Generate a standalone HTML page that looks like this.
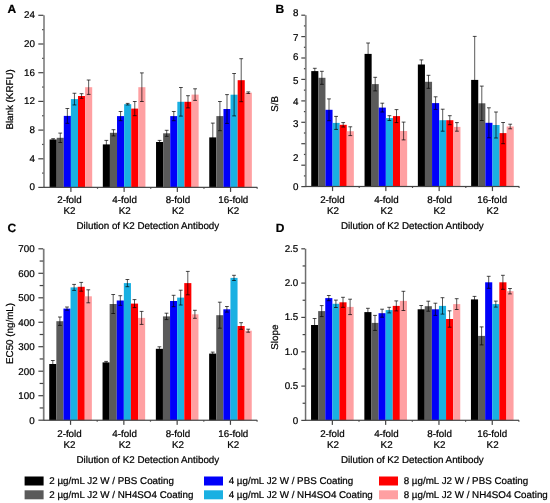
<!DOCTYPE html>
<html><head><meta charset="utf-8"><style>
html,body{margin:0;padding:0;background:#fff;}
svg{display:block;}
text{font-family:'Liberation Sans', Arial, sans-serif;fill:#000;stroke:#000;stroke-width:0.22px;text-rendering:geometricPrecision;}
</style></head><body>
<svg width="550" height="503" viewBox="0 0 550 503">
<rect width="550" height="503" fill="#fff"/>
<rect x="49.60" y="139.50" width="7.10" height="47.85" fill="#000000"/>
<rect x="56.70" y="137.80" width="7.10" height="49.55" fill="#5a5a5a"/>
<rect x="63.80" y="115.90" width="7.10" height="71.45" fill="#0000fa"/>
<rect x="70.90" y="99.10" width="7.10" height="88.25" fill="#1ab0e2"/>
<rect x="78.00" y="96.00" width="7.10" height="91.35" fill="#ff0000"/>
<rect x="85.10" y="87.20" width="7.10" height="100.15" fill="#ffa0a2"/>
<line x1="53.15" y1="138.70" x2="53.15" y2="140.30" stroke="#000" stroke-width="1" stroke-opacity="0.65"/>
<line x1="51.25" y1="138.70" x2="55.05" y2="138.70" stroke="#000" stroke-width="1" stroke-opacity="0.7"/>
<line x1="51.25" y1="140.30" x2="55.05" y2="140.30" stroke="#000" stroke-width="1" stroke-opacity="0.7"/>
<line x1="60.25" y1="133.10" x2="60.25" y2="142.50" stroke="#000" stroke-width="1" stroke-opacity="0.65"/>
<line x1="58.35" y1="133.10" x2="62.15" y2="133.10" stroke="#000" stroke-width="1" stroke-opacity="0.7"/>
<line x1="58.35" y1="142.50" x2="62.15" y2="142.50" stroke="#000" stroke-width="1" stroke-opacity="0.7"/>
<line x1="67.35" y1="108.50" x2="67.35" y2="123.30" stroke="#000" stroke-width="1" stroke-opacity="0.65"/>
<line x1="65.45" y1="108.50" x2="69.25" y2="108.50" stroke="#000" stroke-width="1" stroke-opacity="0.7"/>
<line x1="65.45" y1="123.30" x2="69.25" y2="123.30" stroke="#000" stroke-width="1" stroke-opacity="0.7"/>
<line x1="74.45" y1="93.25" x2="74.45" y2="104.95" stroke="#000" stroke-width="1" stroke-opacity="0.65"/>
<line x1="72.55" y1="93.25" x2="76.35" y2="93.25" stroke="#000" stroke-width="1" stroke-opacity="0.7"/>
<line x1="72.55" y1="104.95" x2="76.35" y2="104.95" stroke="#000" stroke-width="1" stroke-opacity="0.7"/>
<line x1="81.55" y1="93.70" x2="81.55" y2="98.30" stroke="#000" stroke-width="1" stroke-opacity="0.65"/>
<line x1="79.65" y1="93.70" x2="83.45" y2="93.70" stroke="#000" stroke-width="1" stroke-opacity="0.7"/>
<line x1="79.65" y1="98.30" x2="83.45" y2="98.30" stroke="#000" stroke-width="1" stroke-opacity="0.7"/>
<line x1="88.65" y1="80.00" x2="88.65" y2="94.40" stroke="#000" stroke-width="1" stroke-opacity="0.65"/>
<line x1="86.75" y1="80.00" x2="90.55" y2="80.00" stroke="#000" stroke-width="1" stroke-opacity="0.7"/>
<line x1="86.75" y1="94.40" x2="90.55" y2="94.40" stroke="#000" stroke-width="1" stroke-opacity="0.7"/>
<rect x="102.82" y="144.40" width="7.10" height="42.95" fill="#000000"/>
<rect x="109.92" y="132.80" width="7.10" height="54.55" fill="#5a5a5a"/>
<rect x="117.02" y="116.10" width="7.10" height="71.25" fill="#0000fa"/>
<rect x="124.12" y="104.20" width="7.10" height="83.15" fill="#1ab0e2"/>
<rect x="131.22" y="108.60" width="7.10" height="78.75" fill="#ff0000"/>
<rect x="138.32" y="87.20" width="7.10" height="100.15" fill="#ffa0a2"/>
<line x1="106.37" y1="140.40" x2="106.37" y2="148.40" stroke="#000" stroke-width="1" stroke-opacity="0.65"/>
<line x1="104.47" y1="140.40" x2="108.27" y2="140.40" stroke="#000" stroke-width="1" stroke-opacity="0.7"/>
<line x1="104.47" y1="148.40" x2="108.27" y2="148.40" stroke="#000" stroke-width="1" stroke-opacity="0.7"/>
<line x1="113.47" y1="129.70" x2="113.47" y2="135.90" stroke="#000" stroke-width="1" stroke-opacity="0.65"/>
<line x1="111.57" y1="129.70" x2="115.37" y2="129.70" stroke="#000" stroke-width="1" stroke-opacity="0.7"/>
<line x1="111.57" y1="135.90" x2="115.37" y2="135.90" stroke="#000" stroke-width="1" stroke-opacity="0.7"/>
<line x1="120.57" y1="111.50" x2="120.57" y2="120.70" stroke="#000" stroke-width="1" stroke-opacity="0.65"/>
<line x1="118.67" y1="111.50" x2="122.47" y2="111.50" stroke="#000" stroke-width="1" stroke-opacity="0.7"/>
<line x1="118.67" y1="120.70" x2="122.47" y2="120.70" stroke="#000" stroke-width="1" stroke-opacity="0.7"/>
<line x1="127.67" y1="103.40" x2="127.67" y2="105.00" stroke="#000" stroke-width="1" stroke-opacity="0.65"/>
<line x1="125.77" y1="103.40" x2="129.57" y2="103.40" stroke="#000" stroke-width="1" stroke-opacity="0.7"/>
<line x1="125.77" y1="105.00" x2="129.57" y2="105.00" stroke="#000" stroke-width="1" stroke-opacity="0.7"/>
<line x1="134.77" y1="101.50" x2="134.77" y2="115.70" stroke="#000" stroke-width="1" stroke-opacity="0.65"/>
<line x1="132.87" y1="101.50" x2="136.67" y2="101.50" stroke="#000" stroke-width="1" stroke-opacity="0.7"/>
<line x1="132.87" y1="115.70" x2="136.67" y2="115.70" stroke="#000" stroke-width="1" stroke-opacity="0.7"/>
<line x1="141.87" y1="72.90" x2="141.87" y2="101.50" stroke="#000" stroke-width="1" stroke-opacity="0.65"/>
<line x1="139.97" y1="72.90" x2="143.77" y2="72.90" stroke="#000" stroke-width="1" stroke-opacity="0.7"/>
<line x1="139.97" y1="101.50" x2="143.77" y2="101.50" stroke="#000" stroke-width="1" stroke-opacity="0.7"/>
<rect x="156.04" y="142.00" width="7.10" height="45.35" fill="#000000"/>
<rect x="163.14" y="133.30" width="7.10" height="54.05" fill="#5a5a5a"/>
<rect x="170.24" y="116.10" width="7.10" height="71.25" fill="#0000fa"/>
<rect x="177.34" y="101.80" width="7.10" height="85.55" fill="#1ab0e2"/>
<rect x="184.44" y="101.80" width="7.10" height="85.55" fill="#ff0000"/>
<rect x="191.54" y="94.60" width="7.10" height="92.75" fill="#ffa0a2"/>
<line x1="159.59" y1="140.40" x2="159.59" y2="143.60" stroke="#000" stroke-width="1" stroke-opacity="0.65"/>
<line x1="157.69" y1="140.40" x2="161.49" y2="140.40" stroke="#000" stroke-width="1" stroke-opacity="0.7"/>
<line x1="157.69" y1="143.60" x2="161.49" y2="143.60" stroke="#000" stroke-width="1" stroke-opacity="0.7"/>
<line x1="166.69" y1="130.30" x2="166.69" y2="136.30" stroke="#000" stroke-width="1" stroke-opacity="0.65"/>
<line x1="164.79" y1="130.30" x2="168.59" y2="130.30" stroke="#000" stroke-width="1" stroke-opacity="0.7"/>
<line x1="164.79" y1="136.30" x2="168.59" y2="136.30" stroke="#000" stroke-width="1" stroke-opacity="0.7"/>
<line x1="173.79" y1="111.50" x2="173.79" y2="120.70" stroke="#000" stroke-width="1" stroke-opacity="0.65"/>
<line x1="171.89" y1="111.50" x2="175.69" y2="111.50" stroke="#000" stroke-width="1" stroke-opacity="0.7"/>
<line x1="171.89" y1="120.70" x2="175.69" y2="120.70" stroke="#000" stroke-width="1" stroke-opacity="0.7"/>
<line x1="180.89" y1="87.50" x2="180.89" y2="116.10" stroke="#000" stroke-width="1" stroke-opacity="0.65"/>
<line x1="178.99" y1="87.50" x2="182.79" y2="87.50" stroke="#000" stroke-width="1" stroke-opacity="0.7"/>
<line x1="178.99" y1="116.10" x2="182.79" y2="116.10" stroke="#000" stroke-width="1" stroke-opacity="0.7"/>
<line x1="187.99" y1="95.70" x2="187.99" y2="107.90" stroke="#000" stroke-width="1" stroke-opacity="0.65"/>
<line x1="186.09" y1="95.70" x2="189.89" y2="95.70" stroke="#000" stroke-width="1" stroke-opacity="0.7"/>
<line x1="186.09" y1="107.90" x2="189.89" y2="107.90" stroke="#000" stroke-width="1" stroke-opacity="0.7"/>
<line x1="195.09" y1="88.80" x2="195.09" y2="100.40" stroke="#000" stroke-width="1" stroke-opacity="0.65"/>
<line x1="193.19" y1="88.80" x2="196.99" y2="88.80" stroke="#000" stroke-width="1" stroke-opacity="0.7"/>
<line x1="193.19" y1="100.40" x2="196.99" y2="100.40" stroke="#000" stroke-width="1" stroke-opacity="0.7"/>
<rect x="209.26" y="137.40" width="7.10" height="49.95" fill="#000000"/>
<rect x="216.36" y="116.10" width="7.10" height="71.25" fill="#5a5a5a"/>
<rect x="223.46" y="109.00" width="7.10" height="78.35" fill="#0000fa"/>
<rect x="230.56" y="94.70" width="7.10" height="92.65" fill="#1ab0e2"/>
<rect x="237.66" y="80.20" width="7.10" height="107.15" fill="#ff0000"/>
<rect x="244.76" y="92.70" width="7.10" height="94.65" fill="#ffa0a2"/>
<line x1="212.81" y1="123.10" x2="212.81" y2="151.70" stroke="#000" stroke-width="1" stroke-opacity="0.65"/>
<line x1="210.91" y1="123.10" x2="214.71" y2="123.10" stroke="#000" stroke-width="1" stroke-opacity="0.7"/>
<line x1="210.91" y1="151.70" x2="214.71" y2="151.70" stroke="#000" stroke-width="1" stroke-opacity="0.7"/>
<line x1="219.91" y1="101.50" x2="219.91" y2="130.70" stroke="#000" stroke-width="1" stroke-opacity="0.65"/>
<line x1="218.01" y1="101.50" x2="221.81" y2="101.50" stroke="#000" stroke-width="1" stroke-opacity="0.7"/>
<line x1="218.01" y1="130.70" x2="221.81" y2="130.70" stroke="#000" stroke-width="1" stroke-opacity="0.7"/>
<line x1="227.01" y1="94.60" x2="227.01" y2="123.40" stroke="#000" stroke-width="1" stroke-opacity="0.65"/>
<line x1="225.11" y1="94.60" x2="228.91" y2="94.60" stroke="#000" stroke-width="1" stroke-opacity="0.7"/>
<line x1="225.11" y1="123.40" x2="228.91" y2="123.40" stroke="#000" stroke-width="1" stroke-opacity="0.7"/>
<line x1="234.11" y1="73.50" x2="234.11" y2="115.90" stroke="#000" stroke-width="1" stroke-opacity="0.65"/>
<line x1="232.21" y1="73.50" x2="236.01" y2="73.50" stroke="#000" stroke-width="1" stroke-opacity="0.7"/>
<line x1="232.21" y1="115.90" x2="236.01" y2="115.90" stroke="#000" stroke-width="1" stroke-opacity="0.7"/>
<line x1="241.21" y1="58.70" x2="241.21" y2="101.70" stroke="#000" stroke-width="1" stroke-opacity="0.65"/>
<line x1="239.31" y1="58.70" x2="243.11" y2="58.70" stroke="#000" stroke-width="1" stroke-opacity="0.7"/>
<line x1="239.31" y1="101.70" x2="243.11" y2="101.70" stroke="#000" stroke-width="1" stroke-opacity="0.7"/>
<line x1="248.31" y1="91.90" x2="248.31" y2="93.50" stroke="#000" stroke-width="1" stroke-opacity="0.65"/>
<line x1="246.41" y1="91.90" x2="250.21" y2="91.90" stroke="#000" stroke-width="1" stroke-opacity="0.7"/>
<line x1="246.41" y1="93.50" x2="250.21" y2="93.50" stroke="#000" stroke-width="1" stroke-opacity="0.7"/>
<rect x="43.10" y="15.30" width="1.80" height="172.65" fill="#8c8c8c"/>
<rect x="43.20" y="186.75" width="214.10" height="1.20" fill="#454545"/>
<rect x="38.30" y="14.70" width="5.10" height="1.20" fill="#454545"/>
<rect x="38.30" y="43.40" width="5.10" height="1.20" fill="#454545"/>
<rect x="38.30" y="72.10" width="5.10" height="1.20" fill="#454545"/>
<rect x="38.30" y="100.80" width="5.10" height="1.20" fill="#454545"/>
<rect x="38.30" y="129.50" width="5.10" height="1.20" fill="#454545"/>
<rect x="38.30" y="158.20" width="5.10" height="1.20" fill="#454545"/>
<rect x="38.30" y="186.80" width="5.10" height="1.20" fill="#454545"/>
<text x="35.00" y="18.30" font-size="9.8" text-anchor="end" font-weight="normal" >24</text>
<text x="35.00" y="47.00" font-size="9.8" text-anchor="end" font-weight="normal" >20</text>
<text x="35.00" y="75.70" font-size="9.8" text-anchor="end" font-weight="normal" >16</text>
<text x="35.00" y="104.40" font-size="9.8" text-anchor="end" font-weight="normal" >12</text>
<text x="35.00" y="133.10" font-size="9.8" text-anchor="end" font-weight="normal" >8</text>
<text x="35.00" y="161.80" font-size="9.8" text-anchor="end" font-weight="normal" >4</text>
<text x="35.00" y="190.40" font-size="9.8" text-anchor="end" font-weight="normal" >0</text>
<rect x="42.10" y="29.05" width="1.40" height="1.20" fill="#454545"/>
<rect x="42.10" y="57.75" width="1.40" height="1.20" fill="#454545"/>
<rect x="42.10" y="86.45" width="1.40" height="1.20" fill="#454545"/>
<rect x="42.10" y="115.15" width="1.40" height="1.20" fill="#454545"/>
<rect x="42.10" y="143.85" width="1.40" height="1.20" fill="#454545"/>
<rect x="42.10" y="172.50" width="1.40" height="1.20" fill="#454545"/>
<rect x="70.30" y="187.35" width="1.20" height="4.60" fill="#454545"/>
<rect x="96.91" y="187.35" width="1.20" height="1.40" fill="#454545"/>
<rect x="123.52" y="187.35" width="1.20" height="4.60" fill="#454545"/>
<rect x="150.13" y="187.35" width="1.20" height="1.40" fill="#454545"/>
<rect x="176.74" y="187.35" width="1.20" height="4.60" fill="#454545"/>
<rect x="203.35" y="187.35" width="1.20" height="1.40" fill="#454545"/>
<rect x="229.96" y="187.35" width="1.20" height="4.60" fill="#454545"/>
<rect x="256.57" y="187.35" width="1.20" height="1.40" fill="#454545"/>
<text x="69.45" y="202.65" font-size="9.8" text-anchor="middle" font-weight="normal" >2-fold</text>
<text x="69.55" y="213.60" font-size="9.8" text-anchor="middle" font-weight="normal" >K2</text>
<text x="124.60" y="202.65" font-size="9.8" text-anchor="middle" font-weight="normal" >4-fold</text>
<text x="124.70" y="213.60" font-size="9.8" text-anchor="middle" font-weight="normal" >K2</text>
<text x="177.90" y="202.65" font-size="9.8" text-anchor="middle" font-weight="normal" >8-fold</text>
<text x="178.00" y="213.60" font-size="9.8" text-anchor="middle" font-weight="normal" >K2</text>
<text x="233.30" y="202.65" font-size="9.8" text-anchor="middle" font-weight="normal" >16-fold</text>
<text x="233.20" y="213.60" font-size="9.8" text-anchor="middle" font-weight="normal" >K2</text>
<text x="147.85" y="229.00" font-size="9.8" text-anchor="middle" font-weight="normal" >Dilution of K2 Detection Antibody</text>
<text transform="translate(12.80,99.40) rotate(-90)" font-size="9.8" text-anchor="middle">Blank (KRFU)</text>
<text x="7.50" y="12.80" font-size="12" text-anchor="start" font-weight="bold" >A</text>
<rect x="311.25" y="71.10" width="7.10" height="115.40" fill="#000000"/>
<rect x="318.35" y="77.80" width="7.10" height="108.70" fill="#5a5a5a"/>
<rect x="325.45" y="109.80" width="7.10" height="76.70" fill="#0000fa"/>
<rect x="332.55" y="122.90" width="7.10" height="63.60" fill="#1ab0e2"/>
<rect x="339.65" y="124.80" width="7.10" height="61.70" fill="#ff0000"/>
<rect x="346.75" y="131.20" width="7.10" height="55.30" fill="#ffa0a2"/>
<line x1="314.80" y1="68.30" x2="314.80" y2="73.90" stroke="#000" stroke-width="1" stroke-opacity="0.65"/>
<line x1="312.90" y1="68.30" x2="316.70" y2="68.30" stroke="#000" stroke-width="1" stroke-opacity="0.7"/>
<line x1="312.90" y1="73.90" x2="316.70" y2="73.90" stroke="#000" stroke-width="1" stroke-opacity="0.7"/>
<line x1="321.90" y1="71.30" x2="321.90" y2="84.30" stroke="#000" stroke-width="1" stroke-opacity="0.65"/>
<line x1="320.00" y1="71.30" x2="323.80" y2="71.30" stroke="#000" stroke-width="1" stroke-opacity="0.7"/>
<line x1="320.00" y1="84.30" x2="323.80" y2="84.30" stroke="#000" stroke-width="1" stroke-opacity="0.7"/>
<line x1="329.00" y1="98.90" x2="329.00" y2="120.70" stroke="#000" stroke-width="1" stroke-opacity="0.65"/>
<line x1="327.10" y1="98.90" x2="330.90" y2="98.90" stroke="#000" stroke-width="1" stroke-opacity="0.7"/>
<line x1="327.10" y1="120.70" x2="330.90" y2="120.70" stroke="#000" stroke-width="1" stroke-opacity="0.7"/>
<line x1="336.10" y1="116.40" x2="336.10" y2="129.40" stroke="#000" stroke-width="1" stroke-opacity="0.65"/>
<line x1="334.20" y1="116.40" x2="338.00" y2="116.40" stroke="#000" stroke-width="1" stroke-opacity="0.7"/>
<line x1="334.20" y1="129.40" x2="338.00" y2="129.40" stroke="#000" stroke-width="1" stroke-opacity="0.7"/>
<line x1="343.20" y1="122.60" x2="343.20" y2="127.00" stroke="#000" stroke-width="1" stroke-opacity="0.65"/>
<line x1="341.30" y1="122.60" x2="345.10" y2="122.60" stroke="#000" stroke-width="1" stroke-opacity="0.7"/>
<line x1="341.30" y1="127.00" x2="345.10" y2="127.00" stroke="#000" stroke-width="1" stroke-opacity="0.7"/>
<line x1="350.30" y1="126.80" x2="350.30" y2="135.60" stroke="#000" stroke-width="1" stroke-opacity="0.65"/>
<line x1="348.40" y1="126.80" x2="352.20" y2="126.80" stroke="#000" stroke-width="1" stroke-opacity="0.7"/>
<line x1="348.40" y1="135.60" x2="352.20" y2="135.60" stroke="#000" stroke-width="1" stroke-opacity="0.7"/>
<rect x="364.55" y="53.90" width="7.10" height="132.60" fill="#000000"/>
<rect x="371.65" y="84.10" width="7.10" height="102.40" fill="#5a5a5a"/>
<rect x="378.75" y="107.60" width="7.10" height="78.90" fill="#0000fa"/>
<rect x="385.85" y="118.10" width="7.10" height="68.40" fill="#1ab0e2"/>
<rect x="392.95" y="116.10" width="7.10" height="70.40" fill="#ff0000"/>
<rect x="400.05" y="131.00" width="7.10" height="55.50" fill="#ffa0a2"/>
<line x1="368.10" y1="43.00" x2="368.10" y2="64.80" stroke="#000" stroke-width="1" stroke-opacity="0.65"/>
<line x1="366.20" y1="43.00" x2="370.00" y2="43.00" stroke="#000" stroke-width="1" stroke-opacity="0.7"/>
<line x1="366.20" y1="64.80" x2="370.00" y2="64.80" stroke="#000" stroke-width="1" stroke-opacity="0.7"/>
<line x1="375.20" y1="77.30" x2="375.20" y2="90.90" stroke="#000" stroke-width="1" stroke-opacity="0.65"/>
<line x1="373.30" y1="77.30" x2="377.10" y2="77.30" stroke="#000" stroke-width="1" stroke-opacity="0.7"/>
<line x1="373.30" y1="90.90" x2="377.10" y2="90.90" stroke="#000" stroke-width="1" stroke-opacity="0.7"/>
<line x1="382.30" y1="103.20" x2="382.30" y2="112.00" stroke="#000" stroke-width="1" stroke-opacity="0.65"/>
<line x1="380.40" y1="103.20" x2="384.20" y2="103.20" stroke="#000" stroke-width="1" stroke-opacity="0.7"/>
<line x1="380.40" y1="112.00" x2="384.20" y2="112.00" stroke="#000" stroke-width="1" stroke-opacity="0.7"/>
<line x1="389.40" y1="115.70" x2="389.40" y2="120.50" stroke="#000" stroke-width="1" stroke-opacity="0.65"/>
<line x1="387.50" y1="115.70" x2="391.30" y2="115.70" stroke="#000" stroke-width="1" stroke-opacity="0.7"/>
<line x1="387.50" y1="120.50" x2="391.30" y2="120.50" stroke="#000" stroke-width="1" stroke-opacity="0.7"/>
<line x1="396.50" y1="109.60" x2="396.50" y2="122.60" stroke="#000" stroke-width="1" stroke-opacity="0.65"/>
<line x1="394.60" y1="109.60" x2="398.40" y2="109.60" stroke="#000" stroke-width="1" stroke-opacity="0.7"/>
<line x1="394.60" y1="122.60" x2="398.40" y2="122.60" stroke="#000" stroke-width="1" stroke-opacity="0.7"/>
<line x1="403.60" y1="122.10" x2="403.60" y2="139.90" stroke="#000" stroke-width="1" stroke-opacity="0.65"/>
<line x1="401.70" y1="122.10" x2="405.50" y2="122.10" stroke="#000" stroke-width="1" stroke-opacity="0.7"/>
<line x1="401.70" y1="139.90" x2="405.50" y2="139.90" stroke="#000" stroke-width="1" stroke-opacity="0.7"/>
<rect x="417.85" y="64.50" width="7.10" height="122.00" fill="#000000"/>
<rect x="424.95" y="81.80" width="7.10" height="104.70" fill="#5a5a5a"/>
<rect x="432.05" y="103.10" width="7.10" height="83.40" fill="#0000fa"/>
<rect x="439.15" y="120.20" width="7.10" height="66.30" fill="#1ab0e2"/>
<rect x="446.25" y="120.20" width="7.10" height="66.30" fill="#ff0000"/>
<rect x="453.35" y="126.90" width="7.10" height="59.60" fill="#ffa0a2"/>
<line x1="421.40" y1="59.90" x2="421.40" y2="69.10" stroke="#000" stroke-width="1" stroke-opacity="0.65"/>
<line x1="419.50" y1="59.90" x2="423.30" y2="59.90" stroke="#000" stroke-width="1" stroke-opacity="0.7"/>
<line x1="419.50" y1="69.10" x2="423.30" y2="69.10" stroke="#000" stroke-width="1" stroke-opacity="0.7"/>
<line x1="428.50" y1="75.30" x2="428.50" y2="88.30" stroke="#000" stroke-width="1" stroke-opacity="0.65"/>
<line x1="426.60" y1="75.30" x2="430.40" y2="75.30" stroke="#000" stroke-width="1" stroke-opacity="0.7"/>
<line x1="426.60" y1="88.30" x2="430.40" y2="88.30" stroke="#000" stroke-width="1" stroke-opacity="0.7"/>
<line x1="435.60" y1="96.80" x2="435.60" y2="109.40" stroke="#000" stroke-width="1" stroke-opacity="0.65"/>
<line x1="433.70" y1="96.80" x2="437.50" y2="96.80" stroke="#000" stroke-width="1" stroke-opacity="0.7"/>
<line x1="433.70" y1="109.40" x2="437.50" y2="109.40" stroke="#000" stroke-width="1" stroke-opacity="0.7"/>
<line x1="442.70" y1="109.20" x2="442.70" y2="131.20" stroke="#000" stroke-width="1" stroke-opacity="0.65"/>
<line x1="440.80" y1="109.20" x2="444.60" y2="109.20" stroke="#000" stroke-width="1" stroke-opacity="0.7"/>
<line x1="440.80" y1="131.20" x2="444.60" y2="131.20" stroke="#000" stroke-width="1" stroke-opacity="0.7"/>
<line x1="449.80" y1="115.70" x2="449.80" y2="124.70" stroke="#000" stroke-width="1" stroke-opacity="0.65"/>
<line x1="447.90" y1="115.70" x2="451.70" y2="115.70" stroke="#000" stroke-width="1" stroke-opacity="0.7"/>
<line x1="447.90" y1="124.70" x2="451.70" y2="124.70" stroke="#000" stroke-width="1" stroke-opacity="0.7"/>
<line x1="456.90" y1="122.60" x2="456.90" y2="131.20" stroke="#000" stroke-width="1" stroke-opacity="0.65"/>
<line x1="455.00" y1="122.60" x2="458.80" y2="122.60" stroke="#000" stroke-width="1" stroke-opacity="0.7"/>
<line x1="455.00" y1="131.20" x2="458.80" y2="131.20" stroke="#000" stroke-width="1" stroke-opacity="0.7"/>
<rect x="471.15" y="79.90" width="7.10" height="106.60" fill="#000000"/>
<rect x="478.25" y="103.30" width="7.10" height="83.20" fill="#5a5a5a"/>
<rect x="485.35" y="122.80" width="7.10" height="63.70" fill="#0000fa"/>
<rect x="492.45" y="125.00" width="7.10" height="61.50" fill="#1ab0e2"/>
<rect x="499.55" y="133.10" width="7.10" height="53.40" fill="#ff0000"/>
<rect x="506.65" y="126.50" width="7.10" height="60.00" fill="#ffa0a2"/>
<line x1="474.70" y1="36.40" x2="474.70" y2="123.40" stroke="#000" stroke-width="1" stroke-opacity="0.65"/>
<line x1="472.80" y1="36.40" x2="476.60" y2="36.40" stroke="#000" stroke-width="1" stroke-opacity="0.7"/>
<line x1="472.80" y1="123.40" x2="476.60" y2="123.40" stroke="#000" stroke-width="1" stroke-opacity="0.7"/>
<line x1="481.80" y1="86.10" x2="481.80" y2="120.50" stroke="#000" stroke-width="1" stroke-opacity="0.65"/>
<line x1="479.90" y1="86.10" x2="483.70" y2="86.10" stroke="#000" stroke-width="1" stroke-opacity="0.7"/>
<line x1="479.90" y1="120.50" x2="483.70" y2="120.50" stroke="#000" stroke-width="1" stroke-opacity="0.7"/>
<line x1="488.90" y1="107.80" x2="488.90" y2="137.80" stroke="#000" stroke-width="1" stroke-opacity="0.65"/>
<line x1="487.00" y1="107.80" x2="490.80" y2="107.80" stroke="#000" stroke-width="1" stroke-opacity="0.7"/>
<line x1="487.00" y1="137.80" x2="490.80" y2="137.80" stroke="#000" stroke-width="1" stroke-opacity="0.7"/>
<line x1="496.00" y1="112.00" x2="496.00" y2="138.00" stroke="#000" stroke-width="1" stroke-opacity="0.65"/>
<line x1="494.10" y1="112.00" x2="497.90" y2="112.00" stroke="#000" stroke-width="1" stroke-opacity="0.7"/>
<line x1="494.10" y1="138.00" x2="497.90" y2="138.00" stroke="#000" stroke-width="1" stroke-opacity="0.7"/>
<line x1="503.10" y1="122.50" x2="503.10" y2="143.70" stroke="#000" stroke-width="1" stroke-opacity="0.65"/>
<line x1="501.20" y1="122.50" x2="505.00" y2="122.50" stroke="#000" stroke-width="1" stroke-opacity="0.7"/>
<line x1="501.20" y1="143.70" x2="505.00" y2="143.70" stroke="#000" stroke-width="1" stroke-opacity="0.7"/>
<line x1="510.20" y1="124.20" x2="510.20" y2="128.80" stroke="#000" stroke-width="1" stroke-opacity="0.65"/>
<line x1="508.30" y1="124.20" x2="512.10" y2="124.20" stroke="#000" stroke-width="1" stroke-opacity="0.7"/>
<line x1="508.30" y1="128.80" x2="512.10" y2="128.80" stroke="#000" stroke-width="1" stroke-opacity="0.7"/>
<rect x="304.90" y="15.20" width="1.80" height="171.90" fill="#888888"/>
<rect x="304.80" y="185.90" width="214.40" height="1.20" fill="#454545"/>
<rect x="301.30" y="14.60" width="3.90" height="1.20" fill="#454545"/>
<rect x="301.30" y="36.00" width="3.90" height="1.20" fill="#454545"/>
<rect x="301.30" y="57.40" width="3.90" height="1.20" fill="#454545"/>
<rect x="301.30" y="78.80" width="3.90" height="1.20" fill="#454545"/>
<rect x="301.30" y="100.30" width="3.90" height="1.20" fill="#454545"/>
<rect x="301.30" y="121.70" width="3.90" height="1.20" fill="#454545"/>
<rect x="301.30" y="143.10" width="3.90" height="1.20" fill="#454545"/>
<rect x="301.30" y="164.60" width="3.90" height="1.20" fill="#454545"/>
<rect x="301.30" y="186.00" width="3.90" height="1.20" fill="#454545"/>
<text x="298.40" y="16.00" font-size="9.8" text-anchor="end" font-weight="normal" >8</text>
<text x="298.40" y="41.30" font-size="9.8" text-anchor="end" font-weight="normal" >7</text>
<text x="298.40" y="60.20" font-size="9.8" text-anchor="end" font-weight="normal" >6</text>
<text x="298.40" y="83.50" font-size="9.8" text-anchor="end" font-weight="normal" >5</text>
<text x="298.40" y="104.80" font-size="9.8" text-anchor="end" font-weight="normal" >4</text>
<text x="298.40" y="126.90" font-size="9.8" text-anchor="end" font-weight="normal" >3</text>
<text x="298.40" y="161.40" font-size="9.8" text-anchor="end" font-weight="normal" >2</text>
<text x="298.40" y="189.80" font-size="9.8" text-anchor="end" font-weight="normal" >0</text>
<rect x="303.90" y="25.30" width="1.40" height="1.20" fill="#454545"/>
<rect x="303.90" y="46.70" width="1.40" height="1.20" fill="#454545"/>
<rect x="303.90" y="68.10" width="1.40" height="1.20" fill="#454545"/>
<rect x="303.90" y="89.55" width="1.40" height="1.20" fill="#454545"/>
<rect x="303.90" y="111.00" width="1.40" height="1.20" fill="#454545"/>
<rect x="303.90" y="132.40" width="1.40" height="1.20" fill="#454545"/>
<rect x="303.90" y="153.85" width="1.40" height="1.20" fill="#454545"/>
<rect x="303.90" y="175.30" width="1.40" height="1.20" fill="#454545"/>
<rect x="331.95" y="186.50" width="1.20" height="4.60" fill="#454545"/>
<rect x="358.60" y="186.50" width="1.20" height="1.40" fill="#454545"/>
<rect x="385.25" y="186.50" width="1.20" height="4.60" fill="#454545"/>
<rect x="411.90" y="186.50" width="1.20" height="1.40" fill="#454545"/>
<rect x="438.55" y="186.50" width="1.20" height="4.60" fill="#454545"/>
<rect x="465.20" y="186.50" width="1.20" height="1.40" fill="#454545"/>
<rect x="491.85" y="186.50" width="1.20" height="4.60" fill="#454545"/>
<rect x="518.50" y="186.50" width="1.20" height="1.40" fill="#454545"/>
<text x="332.40" y="202.65" font-size="9.8" text-anchor="middle" font-weight="normal" >2-fold</text>
<text x="333.00" y="213.60" font-size="9.8" text-anchor="middle" font-weight="normal" >K2</text>
<text x="386.40" y="202.65" font-size="9.8" text-anchor="middle" font-weight="normal" >4-fold</text>
<text x="386.60" y="213.60" font-size="9.8" text-anchor="middle" font-weight="normal" >K2</text>
<text x="439.60" y="202.65" font-size="9.8" text-anchor="middle" font-weight="normal" >8-fold</text>
<text x="439.40" y="213.60" font-size="9.8" text-anchor="middle" font-weight="normal" >K2</text>
<text x="492.20" y="202.65" font-size="9.8" text-anchor="middle" font-weight="normal" >16-fold</text>
<text x="492.60" y="213.60" font-size="9.8" text-anchor="middle" font-weight="normal" >K2</text>
<text x="412.40" y="229.00" font-size="9.8" text-anchor="middle" font-weight="normal" >Dilution of K2 Detection Antibody</text>
<text transform="translate(278.20,103.80) rotate(-90)" font-size="9.8" text-anchor="middle">S/B</text>
<text x="275.50" y="12.80" font-size="12" text-anchor="start" font-weight="bold" >B</text>
<rect x="49.25" y="364.00" width="7.10" height="56.25" fill="#000000"/>
<rect x="56.35" y="321.20" width="7.10" height="99.05" fill="#5a5a5a"/>
<rect x="63.45" y="308.60" width="7.10" height="111.65" fill="#0000fa"/>
<rect x="70.55" y="287.40" width="7.10" height="132.85" fill="#1ab0e2"/>
<rect x="77.65" y="286.80" width="7.10" height="133.45" fill="#ff0000"/>
<rect x="84.75" y="296.30" width="7.10" height="123.95" fill="#ffa0a2"/>
<line x1="52.80" y1="360.50" x2="52.80" y2="367.50" stroke="#000" stroke-width="1" stroke-opacity="0.65"/>
<line x1="50.90" y1="360.50" x2="54.70" y2="360.50" stroke="#000" stroke-width="1" stroke-opacity="0.7"/>
<line x1="50.90" y1="367.50" x2="54.70" y2="367.50" stroke="#000" stroke-width="1" stroke-opacity="0.7"/>
<line x1="59.90" y1="317.00" x2="59.90" y2="325.40" stroke="#000" stroke-width="1" stroke-opacity="0.65"/>
<line x1="58.00" y1="317.00" x2="61.80" y2="317.00" stroke="#000" stroke-width="1" stroke-opacity="0.7"/>
<line x1="58.00" y1="325.40" x2="61.80" y2="325.40" stroke="#000" stroke-width="1" stroke-opacity="0.7"/>
<line x1="67.00" y1="307.00" x2="67.00" y2="310.20" stroke="#000" stroke-width="1" stroke-opacity="0.65"/>
<line x1="65.10" y1="307.00" x2="68.90" y2="307.00" stroke="#000" stroke-width="1" stroke-opacity="0.7"/>
<line x1="65.10" y1="310.20" x2="68.90" y2="310.20" stroke="#000" stroke-width="1" stroke-opacity="0.7"/>
<line x1="74.10" y1="284.40" x2="74.10" y2="290.40" stroke="#000" stroke-width="1" stroke-opacity="0.65"/>
<line x1="72.20" y1="284.40" x2="76.00" y2="284.40" stroke="#000" stroke-width="1" stroke-opacity="0.7"/>
<line x1="72.20" y1="290.40" x2="76.00" y2="290.40" stroke="#000" stroke-width="1" stroke-opacity="0.7"/>
<line x1="81.20" y1="282.40" x2="81.20" y2="291.20" stroke="#000" stroke-width="1" stroke-opacity="0.65"/>
<line x1="79.30" y1="282.40" x2="83.10" y2="282.40" stroke="#000" stroke-width="1" stroke-opacity="0.7"/>
<line x1="79.30" y1="291.20" x2="83.10" y2="291.20" stroke="#000" stroke-width="1" stroke-opacity="0.7"/>
<line x1="88.30" y1="289.80" x2="88.30" y2="302.80" stroke="#000" stroke-width="1" stroke-opacity="0.65"/>
<line x1="86.40" y1="289.80" x2="90.20" y2="289.80" stroke="#000" stroke-width="1" stroke-opacity="0.7"/>
<line x1="86.40" y1="302.80" x2="90.20" y2="302.80" stroke="#000" stroke-width="1" stroke-opacity="0.7"/>
<rect x="102.55" y="362.40" width="7.10" height="57.85" fill="#000000"/>
<rect x="109.65" y="304.00" width="7.10" height="116.25" fill="#5a5a5a"/>
<rect x="116.75" y="300.50" width="7.10" height="119.75" fill="#0000fa"/>
<rect x="123.85" y="283.10" width="7.10" height="137.15" fill="#1ab0e2"/>
<rect x="130.95" y="303.60" width="7.10" height="116.65" fill="#ff0000"/>
<rect x="138.05" y="317.90" width="7.10" height="102.35" fill="#ffa0a2"/>
<line x1="106.10" y1="361.40" x2="106.10" y2="363.40" stroke="#000" stroke-width="1" stroke-opacity="0.65"/>
<line x1="104.20" y1="361.40" x2="108.00" y2="361.40" stroke="#000" stroke-width="1" stroke-opacity="0.7"/>
<line x1="104.20" y1="363.40" x2="108.00" y2="363.40" stroke="#000" stroke-width="1" stroke-opacity="0.7"/>
<line x1="113.20" y1="294.50" x2="113.20" y2="313.50" stroke="#000" stroke-width="1" stroke-opacity="0.65"/>
<line x1="111.30" y1="294.50" x2="115.10" y2="294.50" stroke="#000" stroke-width="1" stroke-opacity="0.7"/>
<line x1="111.30" y1="313.50" x2="115.10" y2="313.50" stroke="#000" stroke-width="1" stroke-opacity="0.7"/>
<line x1="120.30" y1="295.70" x2="120.30" y2="305.30" stroke="#000" stroke-width="1" stroke-opacity="0.65"/>
<line x1="118.40" y1="295.70" x2="122.20" y2="295.70" stroke="#000" stroke-width="1" stroke-opacity="0.7"/>
<line x1="118.40" y1="305.30" x2="122.20" y2="305.30" stroke="#000" stroke-width="1" stroke-opacity="0.7"/>
<line x1="127.40" y1="279.50" x2="127.40" y2="286.70" stroke="#000" stroke-width="1" stroke-opacity="0.65"/>
<line x1="125.50" y1="279.50" x2="129.30" y2="279.50" stroke="#000" stroke-width="1" stroke-opacity="0.7"/>
<line x1="125.50" y1="286.70" x2="129.30" y2="286.70" stroke="#000" stroke-width="1" stroke-opacity="0.7"/>
<line x1="134.50" y1="299.60" x2="134.50" y2="307.60" stroke="#000" stroke-width="1" stroke-opacity="0.65"/>
<line x1="132.60" y1="299.60" x2="136.40" y2="299.60" stroke="#000" stroke-width="1" stroke-opacity="0.7"/>
<line x1="132.60" y1="307.60" x2="136.40" y2="307.60" stroke="#000" stroke-width="1" stroke-opacity="0.7"/>
<line x1="141.60" y1="311.40" x2="141.60" y2="324.40" stroke="#000" stroke-width="1" stroke-opacity="0.65"/>
<line x1="139.70" y1="311.40" x2="143.50" y2="311.40" stroke="#000" stroke-width="1" stroke-opacity="0.7"/>
<line x1="139.70" y1="324.40" x2="143.50" y2="324.40" stroke="#000" stroke-width="1" stroke-opacity="0.7"/>
<rect x="155.85" y="348.80" width="7.10" height="71.45" fill="#000000"/>
<rect x="162.95" y="316.40" width="7.10" height="103.85" fill="#5a5a5a"/>
<rect x="170.05" y="301.00" width="7.10" height="119.25" fill="#0000fa"/>
<rect x="177.15" y="297.60" width="7.10" height="122.65" fill="#1ab0e2"/>
<rect x="184.25" y="283.10" width="7.10" height="137.15" fill="#ff0000"/>
<rect x="191.35" y="314.30" width="7.10" height="105.95" fill="#ffa0a2"/>
<line x1="159.40" y1="346.80" x2="159.40" y2="350.80" stroke="#000" stroke-width="1" stroke-opacity="0.65"/>
<line x1="157.50" y1="346.80" x2="161.30" y2="346.80" stroke="#000" stroke-width="1" stroke-opacity="0.7"/>
<line x1="157.50" y1="350.80" x2="161.30" y2="350.80" stroke="#000" stroke-width="1" stroke-opacity="0.7"/>
<line x1="166.50" y1="313.20" x2="166.50" y2="319.60" stroke="#000" stroke-width="1" stroke-opacity="0.65"/>
<line x1="164.60" y1="313.20" x2="168.40" y2="313.20" stroke="#000" stroke-width="1" stroke-opacity="0.7"/>
<line x1="164.60" y1="319.60" x2="168.40" y2="319.60" stroke="#000" stroke-width="1" stroke-opacity="0.7"/>
<line x1="173.60" y1="295.30" x2="173.60" y2="306.70" stroke="#000" stroke-width="1" stroke-opacity="0.65"/>
<line x1="171.70" y1="295.30" x2="175.50" y2="295.30" stroke="#000" stroke-width="1" stroke-opacity="0.7"/>
<line x1="171.70" y1="306.70" x2="175.50" y2="306.70" stroke="#000" stroke-width="1" stroke-opacity="0.7"/>
<line x1="180.70" y1="290.20" x2="180.70" y2="305.00" stroke="#000" stroke-width="1" stroke-opacity="0.65"/>
<line x1="178.80" y1="290.20" x2="182.60" y2="290.20" stroke="#000" stroke-width="1" stroke-opacity="0.7"/>
<line x1="178.80" y1="305.00" x2="182.60" y2="305.00" stroke="#000" stroke-width="1" stroke-opacity="0.7"/>
<line x1="187.80" y1="271.40" x2="187.80" y2="294.80" stroke="#000" stroke-width="1" stroke-opacity="0.65"/>
<line x1="185.90" y1="271.40" x2="189.70" y2="271.40" stroke="#000" stroke-width="1" stroke-opacity="0.7"/>
<line x1="185.90" y1="294.80" x2="189.70" y2="294.80" stroke="#000" stroke-width="1" stroke-opacity="0.7"/>
<line x1="194.90" y1="310.30" x2="194.90" y2="318.30" stroke="#000" stroke-width="1" stroke-opacity="0.65"/>
<line x1="193.00" y1="310.30" x2="196.80" y2="310.30" stroke="#000" stroke-width="1" stroke-opacity="0.7"/>
<line x1="193.00" y1="318.30" x2="196.80" y2="318.30" stroke="#000" stroke-width="1" stroke-opacity="0.7"/>
<rect x="209.15" y="353.60" width="7.10" height="66.65" fill="#000000"/>
<rect x="216.25" y="315.20" width="7.10" height="105.05" fill="#5a5a5a"/>
<rect x="223.35" y="309.30" width="7.10" height="110.95" fill="#0000fa"/>
<rect x="230.45" y="277.90" width="7.10" height="142.35" fill="#1ab0e2"/>
<rect x="237.55" y="326.00" width="7.10" height="94.25" fill="#ff0000"/>
<rect x="244.65" y="330.70" width="7.10" height="89.55" fill="#ffa0a2"/>
<line x1="212.70" y1="352.10" x2="212.70" y2="355.10" stroke="#000" stroke-width="1" stroke-opacity="0.65"/>
<line x1="210.80" y1="352.10" x2="214.60" y2="352.10" stroke="#000" stroke-width="1" stroke-opacity="0.7"/>
<line x1="210.80" y1="355.10" x2="214.60" y2="355.10" stroke="#000" stroke-width="1" stroke-opacity="0.7"/>
<line x1="219.80" y1="302.20" x2="219.80" y2="328.20" stroke="#000" stroke-width="1" stroke-opacity="0.65"/>
<line x1="217.90" y1="302.20" x2="221.70" y2="302.20" stroke="#000" stroke-width="1" stroke-opacity="0.7"/>
<line x1="217.90" y1="328.20" x2="221.70" y2="328.20" stroke="#000" stroke-width="1" stroke-opacity="0.7"/>
<line x1="226.90" y1="306.50" x2="226.90" y2="312.10" stroke="#000" stroke-width="1" stroke-opacity="0.65"/>
<line x1="225.00" y1="306.50" x2="228.80" y2="306.50" stroke="#000" stroke-width="1" stroke-opacity="0.7"/>
<line x1="225.00" y1="312.10" x2="228.80" y2="312.10" stroke="#000" stroke-width="1" stroke-opacity="0.7"/>
<line x1="234.00" y1="275.30" x2="234.00" y2="280.50" stroke="#000" stroke-width="1" stroke-opacity="0.65"/>
<line x1="232.10" y1="275.30" x2="235.90" y2="275.30" stroke="#000" stroke-width="1" stroke-opacity="0.7"/>
<line x1="232.10" y1="280.50" x2="235.90" y2="280.50" stroke="#000" stroke-width="1" stroke-opacity="0.7"/>
<line x1="241.10" y1="322.70" x2="241.10" y2="329.30" stroke="#000" stroke-width="1" stroke-opacity="0.65"/>
<line x1="239.20" y1="322.70" x2="243.00" y2="322.70" stroke="#000" stroke-width="1" stroke-opacity="0.7"/>
<line x1="239.20" y1="329.30" x2="243.00" y2="329.30" stroke="#000" stroke-width="1" stroke-opacity="0.7"/>
<line x1="248.20" y1="329.20" x2="248.20" y2="332.20" stroke="#000" stroke-width="1" stroke-opacity="0.65"/>
<line x1="246.30" y1="329.20" x2="250.10" y2="329.20" stroke="#000" stroke-width="1" stroke-opacity="0.7"/>
<line x1="246.30" y1="332.20" x2="250.10" y2="332.20" stroke="#000" stroke-width="1" stroke-opacity="0.7"/>
<rect x="42.85" y="248.80" width="1.70" height="172.05" fill="#7a7a7a"/>
<rect x="43.30" y="419.65" width="213.90" height="1.20" fill="#454545"/>
<rect x="38.40" y="248.20" width="4.75" height="1.20" fill="#454545"/>
<rect x="38.40" y="272.70" width="4.75" height="1.20" fill="#454545"/>
<rect x="38.40" y="297.20" width="4.75" height="1.20" fill="#454545"/>
<rect x="38.40" y="321.70" width="4.75" height="1.20" fill="#454545"/>
<rect x="38.40" y="346.10" width="4.75" height="1.20" fill="#454545"/>
<rect x="38.40" y="370.60" width="4.75" height="1.20" fill="#454545"/>
<rect x="38.40" y="395.10" width="4.75" height="1.20" fill="#454545"/>
<rect x="38.40" y="419.60" width="4.75" height="1.20" fill="#454545"/>
<text x="34.70" y="252.10" font-size="9.8" text-anchor="end" font-weight="normal" >700</text>
<text x="34.70" y="276.90" font-size="9.8" text-anchor="end" font-weight="normal" >600</text>
<text x="34.70" y="301.30" font-size="9.8" text-anchor="end" font-weight="normal" >500</text>
<text x="34.70" y="325.80" font-size="9.8" text-anchor="end" font-weight="normal" >400</text>
<text x="34.70" y="350.20" font-size="9.8" text-anchor="end" font-weight="normal" >300</text>
<text x="34.70" y="374.70" font-size="9.8" text-anchor="end" font-weight="normal" >200</text>
<text x="34.70" y="399.10" font-size="9.8" text-anchor="end" font-weight="normal" >100</text>
<text x="34.70" y="423.50" font-size="9.8" text-anchor="end" font-weight="normal" >0</text>
<rect x="39.65" y="260.45" width="3.60" height="1.20" fill="#454545"/>
<rect x="39.65" y="284.95" width="3.60" height="1.20" fill="#454545"/>
<rect x="39.65" y="309.45" width="3.60" height="1.20" fill="#454545"/>
<rect x="39.65" y="333.90" width="3.60" height="1.20" fill="#454545"/>
<rect x="39.65" y="358.35" width="3.60" height="1.20" fill="#454545"/>
<rect x="39.65" y="382.85" width="3.60" height="1.20" fill="#454545"/>
<rect x="39.65" y="407.35" width="3.60" height="1.20" fill="#454545"/>
<rect x="69.95" y="420.25" width="1.20" height="4.60" fill="#454545"/>
<rect x="96.60" y="420.25" width="1.20" height="1.40" fill="#454545"/>
<rect x="123.25" y="420.25" width="1.20" height="4.60" fill="#454545"/>
<rect x="149.90" y="420.25" width="1.20" height="1.40" fill="#454545"/>
<rect x="176.55" y="420.25" width="1.20" height="4.60" fill="#454545"/>
<rect x="203.20" y="420.25" width="1.20" height="1.40" fill="#454545"/>
<rect x="229.85" y="420.25" width="1.20" height="4.60" fill="#454545"/>
<rect x="256.50" y="420.25" width="1.20" height="1.40" fill="#454545"/>
<text x="69.45" y="436.85" font-size="9.8" text-anchor="middle" font-weight="normal" >2-fold</text>
<text x="69.55" y="447.80" font-size="9.8" text-anchor="middle" font-weight="normal" >K2</text>
<text x="124.60" y="436.85" font-size="9.8" text-anchor="middle" font-weight="normal" >4-fold</text>
<text x="124.70" y="447.80" font-size="9.8" text-anchor="middle" font-weight="normal" >K2</text>
<text x="177.90" y="436.85" font-size="9.8" text-anchor="middle" font-weight="normal" >8-fold</text>
<text x="178.00" y="447.80" font-size="9.8" text-anchor="middle" font-weight="normal" >K2</text>
<text x="233.30" y="436.85" font-size="9.8" text-anchor="middle" font-weight="normal" >16-fold</text>
<text x="233.20" y="447.80" font-size="9.8" text-anchor="middle" font-weight="normal" >K2</text>
<text x="147.85" y="463.20" font-size="9.8" text-anchor="middle" font-weight="normal" >Dilution of K2 Detection Antibody</text>
<text transform="translate(13.30,333.50) rotate(-90)" font-size="9.8" text-anchor="middle">EC50 (ng/mL)</text>
<text x="7.50" y="232.10" font-size="12" text-anchor="start" font-weight="bold" >C</text>
<rect x="311.05" y="325.00" width="7.10" height="95.30" fill="#000000"/>
<rect x="318.15" y="311.10" width="7.10" height="109.20" fill="#5a5a5a"/>
<rect x="325.25" y="298.10" width="7.10" height="122.20" fill="#0000fa"/>
<rect x="332.35" y="303.80" width="7.10" height="116.50" fill="#1ab0e2"/>
<rect x="339.45" y="302.30" width="7.10" height="118.00" fill="#ff0000"/>
<rect x="346.55" y="306.90" width="7.10" height="113.40" fill="#ffa0a2"/>
<line x1="314.60" y1="318.50" x2="314.60" y2="331.50" stroke="#000" stroke-width="1" stroke-opacity="0.65"/>
<line x1="312.70" y1="318.50" x2="316.50" y2="318.50" stroke="#000" stroke-width="1" stroke-opacity="0.7"/>
<line x1="312.70" y1="331.50" x2="316.50" y2="331.50" stroke="#000" stroke-width="1" stroke-opacity="0.7"/>
<line x1="321.70" y1="305.60" x2="321.70" y2="316.60" stroke="#000" stroke-width="1" stroke-opacity="0.65"/>
<line x1="319.80" y1="305.60" x2="323.60" y2="305.60" stroke="#000" stroke-width="1" stroke-opacity="0.7"/>
<line x1="319.80" y1="316.60" x2="323.60" y2="316.60" stroke="#000" stroke-width="1" stroke-opacity="0.7"/>
<line x1="328.80" y1="295.50" x2="328.80" y2="300.70" stroke="#000" stroke-width="1" stroke-opacity="0.65"/>
<line x1="326.90" y1="295.50" x2="330.70" y2="295.50" stroke="#000" stroke-width="1" stroke-opacity="0.7"/>
<line x1="326.90" y1="300.70" x2="330.70" y2="300.70" stroke="#000" stroke-width="1" stroke-opacity="0.7"/>
<line x1="335.90" y1="300.10" x2="335.90" y2="307.50" stroke="#000" stroke-width="1" stroke-opacity="0.65"/>
<line x1="334.00" y1="300.10" x2="337.80" y2="300.10" stroke="#000" stroke-width="1" stroke-opacity="0.7"/>
<line x1="334.00" y1="307.50" x2="337.80" y2="307.50" stroke="#000" stroke-width="1" stroke-opacity="0.7"/>
<line x1="343.00" y1="297.30" x2="343.00" y2="307.30" stroke="#000" stroke-width="1" stroke-opacity="0.65"/>
<line x1="341.10" y1="297.30" x2="344.90" y2="297.30" stroke="#000" stroke-width="1" stroke-opacity="0.7"/>
<line x1="341.10" y1="307.30" x2="344.90" y2="307.30" stroke="#000" stroke-width="1" stroke-opacity="0.7"/>
<line x1="350.10" y1="299.20" x2="350.10" y2="314.60" stroke="#000" stroke-width="1" stroke-opacity="0.65"/>
<line x1="348.20" y1="299.20" x2="352.00" y2="299.20" stroke="#000" stroke-width="1" stroke-opacity="0.7"/>
<line x1="348.20" y1="314.60" x2="352.00" y2="314.60" stroke="#000" stroke-width="1" stroke-opacity="0.7"/>
<rect x="364.35" y="312.10" width="7.10" height="108.20" fill="#000000"/>
<rect x="371.45" y="322.90" width="7.10" height="97.40" fill="#5a5a5a"/>
<rect x="378.55" y="313.20" width="7.10" height="107.10" fill="#0000fa"/>
<rect x="385.65" y="310.10" width="7.10" height="110.20" fill="#1ab0e2"/>
<rect x="392.75" y="305.90" width="7.10" height="114.40" fill="#ff0000"/>
<rect x="399.85" y="300.90" width="7.10" height="119.40" fill="#ffa0a2"/>
<line x1="367.90" y1="308.30" x2="367.90" y2="315.90" stroke="#000" stroke-width="1" stroke-opacity="0.65"/>
<line x1="366.00" y1="308.30" x2="369.80" y2="308.30" stroke="#000" stroke-width="1" stroke-opacity="0.7"/>
<line x1="366.00" y1="315.90" x2="369.80" y2="315.90" stroke="#000" stroke-width="1" stroke-opacity="0.7"/>
<line x1="375.00" y1="315.40" x2="375.00" y2="330.40" stroke="#000" stroke-width="1" stroke-opacity="0.65"/>
<line x1="373.10" y1="315.40" x2="376.90" y2="315.40" stroke="#000" stroke-width="1" stroke-opacity="0.7"/>
<line x1="373.10" y1="330.40" x2="376.90" y2="330.40" stroke="#000" stroke-width="1" stroke-opacity="0.7"/>
<line x1="382.10" y1="309.20" x2="382.10" y2="317.20" stroke="#000" stroke-width="1" stroke-opacity="0.65"/>
<line x1="380.20" y1="309.20" x2="384.00" y2="309.20" stroke="#000" stroke-width="1" stroke-opacity="0.7"/>
<line x1="380.20" y1="317.20" x2="384.00" y2="317.20" stroke="#000" stroke-width="1" stroke-opacity="0.7"/>
<line x1="389.20" y1="307.30" x2="389.20" y2="312.90" stroke="#000" stroke-width="1" stroke-opacity="0.65"/>
<line x1="387.30" y1="307.30" x2="391.10" y2="307.30" stroke="#000" stroke-width="1" stroke-opacity="0.7"/>
<line x1="387.30" y1="312.90" x2="391.10" y2="312.90" stroke="#000" stroke-width="1" stroke-opacity="0.7"/>
<line x1="396.30" y1="300.90" x2="396.30" y2="310.90" stroke="#000" stroke-width="1" stroke-opacity="0.65"/>
<line x1="394.40" y1="300.90" x2="398.20" y2="300.90" stroke="#000" stroke-width="1" stroke-opacity="0.7"/>
<line x1="394.40" y1="310.90" x2="398.20" y2="310.90" stroke="#000" stroke-width="1" stroke-opacity="0.7"/>
<line x1="403.40" y1="291.30" x2="403.40" y2="310.50" stroke="#000" stroke-width="1" stroke-opacity="0.65"/>
<line x1="401.50" y1="291.30" x2="405.30" y2="291.30" stroke="#000" stroke-width="1" stroke-opacity="0.7"/>
<line x1="401.50" y1="310.50" x2="405.30" y2="310.50" stroke="#000" stroke-width="1" stroke-opacity="0.7"/>
<rect x="417.65" y="309.30" width="7.10" height="111.00" fill="#000000"/>
<rect x="424.75" y="306.20" width="7.10" height="114.10" fill="#5a5a5a"/>
<rect x="431.85" y="309.30" width="7.10" height="111.00" fill="#0000fa"/>
<rect x="438.95" y="305.90" width="7.10" height="114.40" fill="#1ab0e2"/>
<rect x="446.05" y="319.00" width="7.10" height="101.30" fill="#ff0000"/>
<rect x="453.15" y="304.10" width="7.10" height="116.20" fill="#ffa0a2"/>
<line x1="421.20" y1="305.50" x2="421.20" y2="313.10" stroke="#000" stroke-width="1" stroke-opacity="0.65"/>
<line x1="419.30" y1="305.50" x2="423.10" y2="305.50" stroke="#000" stroke-width="1" stroke-opacity="0.7"/>
<line x1="419.30" y1="313.10" x2="423.10" y2="313.10" stroke="#000" stroke-width="1" stroke-opacity="0.7"/>
<line x1="428.30" y1="301.20" x2="428.30" y2="311.20" stroke="#000" stroke-width="1" stroke-opacity="0.65"/>
<line x1="426.40" y1="301.20" x2="430.20" y2="301.20" stroke="#000" stroke-width="1" stroke-opacity="0.7"/>
<line x1="426.40" y1="311.20" x2="430.20" y2="311.20" stroke="#000" stroke-width="1" stroke-opacity="0.7"/>
<line x1="435.40" y1="303.20" x2="435.40" y2="315.40" stroke="#000" stroke-width="1" stroke-opacity="0.65"/>
<line x1="433.50" y1="303.20" x2="437.30" y2="303.20" stroke="#000" stroke-width="1" stroke-opacity="0.7"/>
<line x1="433.50" y1="315.40" x2="437.30" y2="315.40" stroke="#000" stroke-width="1" stroke-opacity="0.7"/>
<line x1="442.50" y1="297.70" x2="442.50" y2="314.10" stroke="#000" stroke-width="1" stroke-opacity="0.65"/>
<line x1="440.60" y1="297.70" x2="444.40" y2="297.70" stroke="#000" stroke-width="1" stroke-opacity="0.7"/>
<line x1="440.60" y1="314.10" x2="444.40" y2="314.10" stroke="#000" stroke-width="1" stroke-opacity="0.7"/>
<line x1="449.60" y1="310.80" x2="449.60" y2="327.20" stroke="#000" stroke-width="1" stroke-opacity="0.65"/>
<line x1="447.70" y1="310.80" x2="451.50" y2="310.80" stroke="#000" stroke-width="1" stroke-opacity="0.7"/>
<line x1="447.70" y1="327.20" x2="451.50" y2="327.20" stroke="#000" stroke-width="1" stroke-opacity="0.7"/>
<line x1="456.70" y1="298.70" x2="456.70" y2="309.50" stroke="#000" stroke-width="1" stroke-opacity="0.65"/>
<line x1="454.80" y1="298.70" x2="458.60" y2="298.70" stroke="#000" stroke-width="1" stroke-opacity="0.7"/>
<line x1="454.80" y1="309.50" x2="458.60" y2="309.50" stroke="#000" stroke-width="1" stroke-opacity="0.7"/>
<rect x="470.95" y="299.40" width="7.10" height="120.90" fill="#000000"/>
<rect x="478.05" y="335.90" width="7.10" height="84.40" fill="#5a5a5a"/>
<rect x="485.15" y="282.30" width="7.10" height="138.00" fill="#0000fa"/>
<rect x="492.25" y="304.10" width="7.10" height="116.20" fill="#1ab0e2"/>
<rect x="499.35" y="282.30" width="7.10" height="138.00" fill="#ff0000"/>
<rect x="506.45" y="291.20" width="7.10" height="129.10" fill="#ffa0a2"/>
<line x1="474.50" y1="296.40" x2="474.50" y2="302.40" stroke="#000" stroke-width="1" stroke-opacity="0.65"/>
<line x1="472.60" y1="296.40" x2="476.40" y2="296.40" stroke="#000" stroke-width="1" stroke-opacity="0.7"/>
<line x1="472.60" y1="302.40" x2="476.40" y2="302.40" stroke="#000" stroke-width="1" stroke-opacity="0.7"/>
<line x1="481.60" y1="326.90" x2="481.60" y2="344.90" stroke="#000" stroke-width="1" stroke-opacity="0.65"/>
<line x1="479.70" y1="326.90" x2="483.50" y2="326.90" stroke="#000" stroke-width="1" stroke-opacity="0.7"/>
<line x1="479.70" y1="344.90" x2="483.50" y2="344.90" stroke="#000" stroke-width="1" stroke-opacity="0.7"/>
<line x1="488.70" y1="276.30" x2="488.70" y2="288.30" stroke="#000" stroke-width="1" stroke-opacity="0.65"/>
<line x1="486.80" y1="276.30" x2="490.60" y2="276.30" stroke="#000" stroke-width="1" stroke-opacity="0.7"/>
<line x1="486.80" y1="288.30" x2="490.60" y2="288.30" stroke="#000" stroke-width="1" stroke-opacity="0.7"/>
<line x1="495.80" y1="301.10" x2="495.80" y2="307.10" stroke="#000" stroke-width="1" stroke-opacity="0.65"/>
<line x1="493.90" y1="301.10" x2="497.70" y2="301.10" stroke="#000" stroke-width="1" stroke-opacity="0.7"/>
<line x1="493.90" y1="307.10" x2="497.70" y2="307.10" stroke="#000" stroke-width="1" stroke-opacity="0.7"/>
<line x1="502.90" y1="275.30" x2="502.90" y2="289.30" stroke="#000" stroke-width="1" stroke-opacity="0.65"/>
<line x1="501.00" y1="275.30" x2="504.80" y2="275.30" stroke="#000" stroke-width="1" stroke-opacity="0.7"/>
<line x1="501.00" y1="289.30" x2="504.80" y2="289.30" stroke="#000" stroke-width="1" stroke-opacity="0.7"/>
<line x1="510.00" y1="288.50" x2="510.00" y2="293.90" stroke="#000" stroke-width="1" stroke-opacity="0.65"/>
<line x1="508.10" y1="288.50" x2="511.90" y2="288.50" stroke="#000" stroke-width="1" stroke-opacity="0.7"/>
<line x1="508.10" y1="293.90" x2="511.90" y2="293.90" stroke="#000" stroke-width="1" stroke-opacity="0.7"/>
<rect x="304.80" y="248.80" width="1.50" height="172.10" fill="#6e6e6e"/>
<rect x="305.00" y="419.70" width="214.00" height="1.20" fill="#454545"/>
<rect x="301.30" y="248.20" width="3.80" height="1.20" fill="#454545"/>
<rect x="301.30" y="282.50" width="3.80" height="1.20" fill="#454545"/>
<rect x="301.30" y="316.80" width="3.80" height="1.20" fill="#454545"/>
<rect x="301.30" y="351.20" width="3.80" height="1.20" fill="#454545"/>
<rect x="301.30" y="385.50" width="3.80" height="1.20" fill="#454545"/>
<rect x="301.30" y="419.80" width="3.80" height="1.20" fill="#454545"/>
<text x="298.30" y="251.80" font-size="9.8" text-anchor="end" font-weight="normal" >2.5</text>
<text x="298.30" y="286.10" font-size="9.8" text-anchor="end" font-weight="normal" >2.0</text>
<text x="298.30" y="320.40" font-size="9.8" text-anchor="end" font-weight="normal" >1.5</text>
<text x="298.30" y="354.80" font-size="9.8" text-anchor="end" font-weight="normal" >1.0</text>
<text x="298.30" y="389.10" font-size="9.8" text-anchor="end" font-weight="normal" >0.5</text>
<text x="298.30" y="424.10" font-size="9.8" text-anchor="end" font-weight="normal" >0</text>
<rect x="302.60" y="265.35" width="2.60" height="1.20" fill="#454545"/>
<rect x="302.60" y="299.65" width="2.60" height="1.20" fill="#454545"/>
<rect x="302.60" y="334.00" width="2.60" height="1.20" fill="#454545"/>
<rect x="302.60" y="368.35" width="2.60" height="1.20" fill="#454545"/>
<rect x="302.60" y="402.65" width="2.60" height="1.20" fill="#454545"/>
<rect x="331.75" y="420.30" width="1.20" height="4.60" fill="#454545"/>
<rect x="358.40" y="420.30" width="1.20" height="1.40" fill="#454545"/>
<rect x="385.05" y="420.30" width="1.20" height="4.60" fill="#454545"/>
<rect x="411.70" y="420.30" width="1.20" height="1.40" fill="#454545"/>
<rect x="438.35" y="420.30" width="1.20" height="4.60" fill="#454545"/>
<rect x="465.00" y="420.30" width="1.20" height="1.40" fill="#454545"/>
<rect x="491.65" y="420.30" width="1.20" height="4.60" fill="#454545"/>
<rect x="518.30" y="420.30" width="1.20" height="1.40" fill="#454545"/>
<text x="332.40" y="436.85" font-size="9.8" text-anchor="middle" font-weight="normal" >2-fold</text>
<text x="333.00" y="447.80" font-size="9.8" text-anchor="middle" font-weight="normal" >K2</text>
<text x="386.40" y="436.85" font-size="9.8" text-anchor="middle" font-weight="normal" >4-fold</text>
<text x="386.60" y="447.80" font-size="9.8" text-anchor="middle" font-weight="normal" >K2</text>
<text x="439.60" y="436.85" font-size="9.8" text-anchor="middle" font-weight="normal" >8-fold</text>
<text x="439.40" y="447.80" font-size="9.8" text-anchor="middle" font-weight="normal" >K2</text>
<text x="492.20" y="436.85" font-size="9.8" text-anchor="middle" font-weight="normal" >16-fold</text>
<text x="492.60" y="447.80" font-size="9.8" text-anchor="middle" font-weight="normal" >K2</text>
<text x="412.40" y="463.20" font-size="9.8" text-anchor="middle" font-weight="normal" >Dilution of K2 Detection Antibody</text>
<text transform="translate(278.20,337.20) rotate(-90)" font-size="9.8" text-anchor="middle">Slope</text>
<text x="275.70" y="232.30" font-size="12" text-anchor="start" font-weight="bold" >D</text>
<rect x="24.60" y="476.50" width="19.00" height="9.00" fill="#000000"/>
<text x="49.30" y="484.00" font-size="9.8" text-anchor="start" font-weight="normal" >2 µg/mL J2 W / PBS Coating</text>
<rect x="24.60" y="490.30" width="19.00" height="9.00" fill="#5a5a5a"/>
<text x="49.30" y="497.80" font-size="9.8" text-anchor="start" font-weight="normal" >2 µg/mL J2 W / NH4SO4 Coating</text>
<rect x="204.00" y="476.50" width="19.00" height="9.00" fill="#0000fa"/>
<text x="228.70" y="484.00" font-size="9.8" text-anchor="start" font-weight="normal" >4 µg/mL J2 W / PBS Coating</text>
<rect x="204.00" y="490.30" width="19.00" height="9.00" fill="#1ab0e2"/>
<text x="228.70" y="497.80" font-size="9.8" text-anchor="start" font-weight="normal" >4 µg/mL J2 W / NH4SO4 Coating</text>
<rect x="379.00" y="476.50" width="19.00" height="9.00" fill="#ff0000"/>
<text x="403.70" y="484.00" font-size="9.8" text-anchor="start" font-weight="normal" >8 µg/mL J2 W / PBS Coating</text>
<rect x="379.00" y="490.30" width="19.00" height="9.00" fill="#ffa0a2"/>
<text x="403.70" y="497.80" font-size="9.8" text-anchor="start" font-weight="normal" >8 µg/mL J2 W / NH4SO4 Coating</text>
</svg>
</body></html>
